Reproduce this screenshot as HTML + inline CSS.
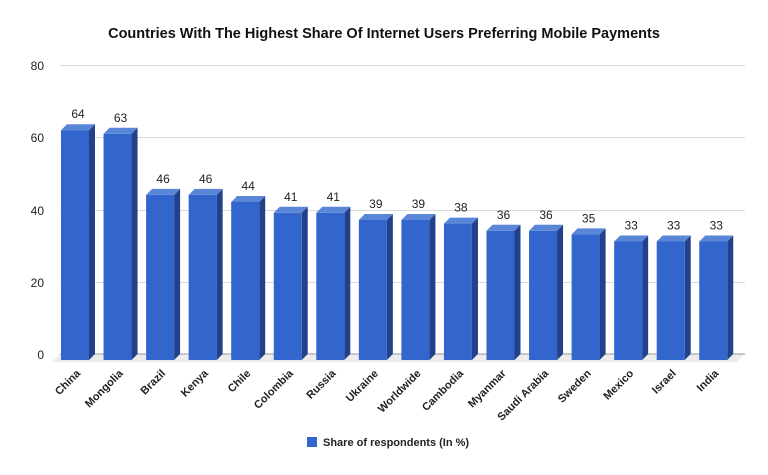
<!DOCTYPE html>
<html><head><style>body{margin:0;background:#fff}svg{display:block}text{font-family:"Liberation Sans",sans-serif}.s{fill:#22418a}.tp{fill:#5a86d8}.f{fill:#3366cc}.v{font-size:12px;fill:#222;text-anchor:middle}.c{font-size:11px;font-weight:bold;fill:#222;text-anchor:end}</style></head><body>
<svg width="768" height="475" xmlns="http://www.w3.org/2000/svg">
<text x="384" y="38" text-anchor="middle" font-size="14.5" font-weight="bold" fill="#111">Countries With The Highest Share Of Internet Users Preferring Mobile Payments</text>
<g stroke="#dadada" stroke-width="1">
<line x1="60" x2="745" y1="65.5" y2="65.5"/><line x1="60" x2="745" y1="137.5" y2="137.5"/><line x1="60" x2="745" y1="210.5" y2="210.5"/><line x1="60" x2="745" y1="282.5" y2="282.5"/>
</g>
<polygon points="60,354 745,354 737,362 52,362" fill="#ececec"/>
<line x1="60" x2="745" y1="354" y2="354" stroke="#999"/>
<g font-size="12" fill="#222" text-anchor="end">
<text x="44" y="70">80</text><text x="44" y="142">60</text><text x="44" y="215">40</text><text x="44" y="287">20</text><text x="44" y="359">0</text>
</g>

<g transform="translate(61,0)"><polygon class="s" points="28,130.2 34,124.2 34,354 28,360"/><polygon class="tp" points="0,130.2 6,124.2 34,124.2 28,130.2"/><rect class="f" x="0" y="130.2" width="28" height="229.8"/><text class="v" x="17" y="118">64</text><text class="c" transform="translate(20,374) rotate(-45)">China</text></g>
<g transform="translate(103.55,0)"><polygon class="s" points="28,133.8 34,127.8 34,354 28,360"/><polygon class="tp" points="0,133.8 6,127.8 34,127.8 28,133.8"/><rect class="f" x="0" y="133.8" width="28" height="226.2"/><text class="v" x="17" y="121.8">63</text><text class="c" transform="translate(20,374) rotate(-45)">Mongolia</text></g>
<g transform="translate(146.1,0)"><polygon class="s" points="28,194.9 34,188.9 34,354 28,360"/><polygon class="tp" points="0,194.9 6,188.9 34,188.9 28,194.9"/><rect class="f" x="0" y="194.9" width="28" height="165.1"/><text class="v" x="17" y="182.9">46</text><text class="c" transform="translate(20,374) rotate(-45)">Brazil</text></g>
<g transform="translate(188.65,0)"><polygon class="s" points="28,194.9 34,188.9 34,354 28,360"/><polygon class="tp" points="0,194.9 6,188.9 34,188.9 28,194.9"/><rect class="f" x="0" y="194.9" width="28" height="165.1"/><text class="v" x="17" y="182.9">46</text><text class="c" transform="translate(20,374) rotate(-45)">Kenya</text></g>
<g transform="translate(231.2,0)"><polygon class="s" points="28,202 34,196 34,354 28,360"/><polygon class="tp" points="0,202 6,196 34,196 28,202"/><rect class="f" x="0" y="202" width="28" height="158"/><text class="v" x="17" y="190">44</text><text class="c" transform="translate(20,374) rotate(-45)">Chile</text></g>
<g transform="translate(273.75,0)"><polygon class="s" points="28,212.8 34,206.8 34,354 28,360"/><polygon class="tp" points="0,212.8 6,206.8 34,206.8 28,212.8"/><rect class="f" x="0" y="212.8" width="28" height="147.2"/><text class="v" x="17" y="200.8">41</text><text class="c" transform="translate(20,374) rotate(-45)">Colombia</text></g>
<g transform="translate(316.3,0)"><polygon class="s" points="28,212.8 34,206.8 34,354 28,360"/><polygon class="tp" points="0,212.8 6,206.8 34,206.8 28,212.8"/><rect class="f" x="0" y="212.8" width="28" height="147.2"/><text class="v" x="17" y="200.8">41</text><text class="c" transform="translate(20,374) rotate(-45)">Russia</text></g>
<g transform="translate(358.85,0)"><polygon class="s" points="28,220 34,214 34,354 28,360"/><polygon class="tp" points="0,220 6,214 34,214 28,220"/><rect class="f" x="0" y="220" width="28" height="140"/><text class="v" x="17" y="208">39</text><text class="c" transform="translate(20,374) rotate(-45)">Ukraine</text></g>
<g transform="translate(401.4,0)"><polygon class="s" points="28,220 34,214 34,354 28,360"/><polygon class="tp" points="0,220 6,214 34,214 28,220"/><rect class="f" x="0" y="220" width="28" height="140"/><text class="v" x="17" y="208">39</text><text class="c" transform="translate(20,374) rotate(-45)">Worldwide</text></g>
<g transform="translate(443.95,0)"><polygon class="s" points="28,223.6 34,217.6 34,354 28,360"/><polygon class="tp" points="0,223.6 6,217.6 34,217.6 28,223.6"/><rect class="f" x="0" y="223.6" width="28" height="136.4"/><text class="v" x="17" y="211.6">38</text><text class="c" transform="translate(20,374) rotate(-45)">Cambodia</text></g>
<g transform="translate(486.5,0)"><polygon class="s" points="28,230.8 34,224.8 34,354 28,360"/><polygon class="tp" points="0,230.8 6,224.8 34,224.8 28,230.8"/><rect class="f" x="0" y="230.8" width="28" height="129.2"/><text class="v" x="17" y="218.8">36</text><text class="c" transform="translate(20,374) rotate(-45)">Myanmar</text></g>
<g transform="translate(529.05,0)"><polygon class="s" points="28,230.8 34,224.8 34,354 28,360"/><polygon class="tp" points="0,230.8 6,224.8 34,224.8 28,230.8"/><rect class="f" x="0" y="230.8" width="28" height="129.2"/><text class="v" x="17" y="218.8">36</text><text class="c" transform="translate(20,374) rotate(-45)">Saudi Arabia</text></g>
<g transform="translate(571.6,0)"><polygon class="s" points="28,234.4 34,228.4 34,354 28,360"/><polygon class="tp" points="0,234.4 6,228.4 34,228.4 28,234.4"/><rect class="f" x="0" y="234.4" width="28" height="125.6"/><text class="v" x="17" y="222.4">35</text><text class="c" transform="translate(20,374) rotate(-45)">Sweden</text></g>
<g transform="translate(614.15,0)"><polygon class="s" points="28,241.5 34,235.5 34,354 28,360"/><polygon class="tp" points="0,241.5 6,235.5 34,235.5 28,241.5"/><rect class="f" x="0" y="241.5" width="28" height="118.5"/><text class="v" x="17" y="229.5">33</text><text class="c" transform="translate(20,374) rotate(-45)">Mexico</text></g>
<g transform="translate(656.7,0)"><polygon class="s" points="28,241.5 34,235.5 34,354 28,360"/><polygon class="tp" points="0,241.5 6,235.5 34,235.5 28,241.5"/><rect class="f" x="0" y="241.5" width="28" height="118.5"/><text class="v" x="17" y="229.5">33</text><text class="c" transform="translate(20,374) rotate(-45)">Israel</text></g>
<g transform="translate(699.25,0)"><polygon class="s" points="28,241.5 34,235.5 34,354 28,360"/><polygon class="tp" points="0,241.5 6,235.5 34,235.5 28,241.5"/><rect class="f" x="0" y="241.5" width="28" height="118.5"/><text class="v" x="17" y="229.5">33</text><text class="c" transform="translate(20,374) rotate(-45)">India</text></g>

<rect x="307" y="437" width="10" height="10" fill="#3366cc"/>
<text x="323" y="446" font-size="11" font-weight="bold" fill="#222">Share of respondents (In %)</text>
</svg></body></html>
